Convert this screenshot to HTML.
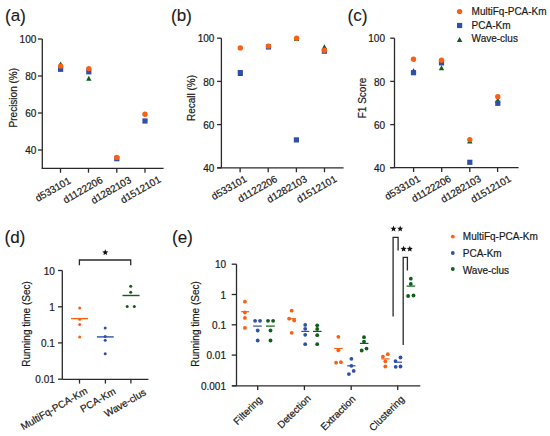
<!DOCTYPE html>
<html><head><meta charset="utf-8"><style>
html,body{margin:0;padding:0;background:#fff;}
svg{display:block;}
text{font-family:"Liberation Sans",sans-serif;stroke:#1a1a1a;stroke-width:0.2px;}
.pl{stroke-width:0.1px;}
</style></head><body>
<svg width="550" height="436" viewBox="0 0 550 436">
<rect width="550" height="436" fill="#fff"/>
<text x="5" y="21.6" font-size="17.5" text-anchor="start" fill="#1a1a1a" class="pl">(</text>
<text x="10.661000000000001" y="20.8" font-size="17" text-anchor="start" fill="#1a1a1a" class="pl">a</text>
<text x="20.113000000000003" y="21.6" font-size="17.5" text-anchor="start" fill="#1a1a1a" class="pl">)</text>
<text x="171" y="21.6" font-size="17.5" text-anchor="start" fill="#1a1a1a" class="pl">(</text>
<text x="176.661" y="20.8" font-size="17" text-anchor="start" fill="#1a1a1a" class="pl">b</text>
<text x="186.113" y="21.6" font-size="17.5" text-anchor="start" fill="#1a1a1a" class="pl">)</text>
<text x="347.5" y="21.6" font-size="17.5" text-anchor="start" fill="#1a1a1a" class="pl">(</text>
<text x="353.161" y="20.8" font-size="17" text-anchor="start" fill="#1a1a1a" class="pl">c</text>
<text x="361.661" y="21.6" font-size="17.5" text-anchor="start" fill="#1a1a1a" class="pl">)</text>
<text x="4.5" y="243.4" font-size="17.5" text-anchor="start" fill="#1a1a1a" class="pl">(</text>
<text x="10.161000000000001" y="242.8" font-size="17" text-anchor="start" fill="#1a1a1a" class="pl">d</text>
<text x="19.613000000000003" y="243.4" font-size="17.5" text-anchor="start" fill="#1a1a1a" class="pl">)</text>
<text x="172" y="243.4" font-size="17.5" text-anchor="start" fill="#1a1a1a" class="pl">(</text>
<text x="177.661" y="242.8" font-size="17" text-anchor="start" fill="#1a1a1a" class="pl">e</text>
<text x="187.113" y="243.4" font-size="17.5" text-anchor="start" fill="#1a1a1a" class="pl">)</text>
<line x1="42.3" y1="39" x2="42.3" y2="168.4" stroke="#2a2a2a" stroke-width="1.3"/>
<line x1="41.65" y1="168.4" x2="163.6" y2="168.4" stroke="#2a2a2a" stroke-width="1.3"/>
<line x1="38.0" y1="39" x2="42.3" y2="39" stroke="#2a2a2a" stroke-width="1.3"/>
<text x="36.3" y="43.1" font-size="10" text-anchor="end" fill="#1a1a1a">100</text>
<line x1="38.0" y1="76" x2="42.3" y2="76" stroke="#2a2a2a" stroke-width="1.3"/>
<text x="36.3" y="80.1" font-size="10" text-anchor="end" fill="#1a1a1a">80</text>
<line x1="38.0" y1="113" x2="42.3" y2="113" stroke="#2a2a2a" stroke-width="1.3"/>
<text x="36.3" y="117.1" font-size="10" text-anchor="end" fill="#1a1a1a">60</text>
<line x1="38.0" y1="150" x2="42.3" y2="150" stroke="#2a2a2a" stroke-width="1.3"/>
<text x="36.3" y="154.1" font-size="10" text-anchor="end" fill="#1a1a1a">40</text>
<line x1="60.5" y1="168.4" x2="60.5" y2="172.70000000000002" stroke="#2a2a2a" stroke-width="1.3"/>
<text x="71.5" y="182.6" font-size="10" text-anchor="end" fill="#1a1a1a" transform="rotate(-30 71.5 182.6)">d533101</text>
<line x1="88.5" y1="168.4" x2="88.5" y2="172.70000000000002" stroke="#2a2a2a" stroke-width="1.3"/>
<text x="103.5" y="181.9" font-size="10" text-anchor="end" fill="#1a1a1a" transform="rotate(-30 103.5 181.9)">d1122206</text>
<line x1="116.8" y1="168.4" x2="116.8" y2="172.70000000000002" stroke="#2a2a2a" stroke-width="1.3"/>
<text x="132.0" y="181.9" font-size="10" text-anchor="end" fill="#1a1a1a" transform="rotate(-30 132.0 181.9)">d1282103</text>
<line x1="145" y1="168.4" x2="145" y2="172.70000000000002" stroke="#2a2a2a" stroke-width="1.3"/>
<text x="161.5" y="181.4" font-size="10" text-anchor="end" fill="#1a1a1a" transform="rotate(-30 161.5 181.4)">d1512101</text>
<text x="17" y="97.7" font-size="10" text-anchor="middle" fill="#1a1a1a" transform="rotate(-90 17 97.7)">Precision (%)</text>
<polygon points="57.9,66.33 63.300000000000004,66.33 60.6,61.47" fill="#0E5E1C"/>
<rect x="58.0" y="66.7" width="5.2" height="5.2" fill="#2F4FAA"/>
<circle cx="60.6" cy="66.1" r="2.7" fill="#FA5F12"/>
<polygon points="86.1,80.63000000000001 91.5,80.63000000000001 88.8,75.77" fill="#0E5E1C"/>
<rect x="86.2" y="69.2" width="5.2" height="5.2" fill="#2F4FAA"/>
<circle cx="88.8" cy="68.6" r="2.7" fill="#FA5F12"/>
<rect x="114.2" y="156.1" width="5.2" height="5.2" fill="#2F4FAA"/>
<circle cx="116.8" cy="157.4" r="2.7" fill="#FA5F12"/>
<rect x="142.4" y="118.4" width="5.2" height="5.2" fill="#2F4FAA"/>
<circle cx="145" cy="114.2" r="2.7" fill="#FA5F12"/>
<line x1="221.4" y1="38.2" x2="221.4" y2="167.9" stroke="#2a2a2a" stroke-width="1.3"/>
<line x1="217.1" y1="167.9" x2="343.6" y2="167.9" stroke="#2a2a2a" stroke-width="1.3"/>
<line x1="217.1" y1="38.2" x2="221.4" y2="38.2" stroke="#2a2a2a" stroke-width="1.3"/>
<text x="214.4" y="42.300000000000004" font-size="10" text-anchor="end" fill="#1a1a1a">100</text>
<line x1="217.1" y1="81.4" x2="221.4" y2="81.4" stroke="#2a2a2a" stroke-width="1.3"/>
<text x="214.4" y="85.5" font-size="10" text-anchor="end" fill="#1a1a1a">80</text>
<line x1="217.1" y1="124.6" x2="221.4" y2="124.6" stroke="#2a2a2a" stroke-width="1.3"/>
<text x="214.4" y="128.7" font-size="10" text-anchor="end" fill="#1a1a1a">60</text>
<line x1="217.1" y1="167.9" x2="221.4" y2="167.9" stroke="#2a2a2a" stroke-width="1.3"/>
<text x="214.4" y="172.0" font-size="10" text-anchor="end" fill="#1a1a1a">40</text>
<line x1="240.1" y1="167.9" x2="240.1" y2="172.20000000000002" stroke="#2a2a2a" stroke-width="1.3"/>
<text x="247.6" y="180.9" font-size="10" text-anchor="end" fill="#1a1a1a" transform="rotate(-30 247.6 180.9)">d533101</text>
<line x1="268.2" y1="167.9" x2="268.2" y2="172.20000000000002" stroke="#2a2a2a" stroke-width="1.3"/>
<text x="278.2" y="180.9" font-size="10" text-anchor="end" fill="#1a1a1a" transform="rotate(-30 278.2 180.9)">d1122206</text>
<line x1="296.4" y1="167.9" x2="296.4" y2="172.20000000000002" stroke="#2a2a2a" stroke-width="1.3"/>
<text x="307.9" y="180.9" font-size="10" text-anchor="end" fill="#1a1a1a" transform="rotate(-30 307.9 180.9)">d1282103</text>
<line x1="324.5" y1="167.9" x2="324.5" y2="172.20000000000002" stroke="#2a2a2a" stroke-width="1.3"/>
<text x="337.5" y="180.9" font-size="10" text-anchor="end" fill="#1a1a1a" transform="rotate(-30 337.5 180.9)">d1512101</text>
<text x="195" y="98" font-size="10" text-anchor="middle" fill="#1a1a1a" transform="rotate(-90 195 98)">Recall (%)</text>
<polygon points="237.60000000000002,75.93 243.0,75.93 240.3,71.07" fill="#0E5E1C"/>
<rect x="237.70000000000002" y="70.0" width="5.2" height="5.2" fill="#2F4FAA"/>
<circle cx="240.3" cy="47.9" r="2.7" fill="#FA5F12"/>
<polygon points="265.8,49.23 271.2,49.23 268.5,44.37" fill="#0E5E1C"/>
<rect x="265.9" y="44.199999999999996" width="5.2" height="5.2" fill="#2F4FAA"/>
<circle cx="268.5" cy="46.1" r="2.7" fill="#FA5F12"/>
<polygon points="293.90000000000003,41.03 299.3,41.03 296.6,36.17" fill="#0E5E1C"/>
<circle cx="296.6" cy="38.2" r="2.7" fill="#FA5F12"/>
<polygon points="321.7,49.23 327.09999999999997,49.23 324.4,44.37" fill="#0E5E1C"/>
<rect x="321.79999999999995" y="48.6" width="5.2" height="5.2" fill="#2F4FAA"/>
<circle cx="324.4" cy="50.2" r="2.7" fill="#FA5F12"/>
<rect x="293.79999999999995" y="137.3" width="5.2" height="5.2" fill="#2F4FAA"/>
<line x1="394.5" y1="38.2" x2="394.5" y2="167.7" stroke="#2a2a2a" stroke-width="1.3"/>
<line x1="390.2" y1="167.7" x2="518.6" y2="167.7" stroke="#2a2a2a" stroke-width="1.3"/>
<line x1="390.2" y1="38.2" x2="394.5" y2="38.2" stroke="#2a2a2a" stroke-width="1.3"/>
<text x="385.0" y="42.300000000000004" font-size="10" text-anchor="end" fill="#1a1a1a">100</text>
<line x1="390.2" y1="81.4" x2="394.5" y2="81.4" stroke="#2a2a2a" stroke-width="1.3"/>
<text x="385.0" y="85.5" font-size="10" text-anchor="end" fill="#1a1a1a">80</text>
<line x1="390.2" y1="124.6" x2="394.5" y2="124.6" stroke="#2a2a2a" stroke-width="1.3"/>
<text x="385.0" y="128.7" font-size="10" text-anchor="end" fill="#1a1a1a">60</text>
<line x1="390.2" y1="167.7" x2="394.5" y2="167.7" stroke="#2a2a2a" stroke-width="1.3"/>
<text x="385.0" y="171.79999999999998" font-size="10" text-anchor="end" fill="#1a1a1a">40</text>
<line x1="413.6" y1="167.7" x2="413.6" y2="172.0" stroke="#2a2a2a" stroke-width="1.3"/>
<text x="421.0" y="180.7" font-size="10" text-anchor="end" fill="#1a1a1a" transform="rotate(-30 421.0 180.7)">d533101</text>
<line x1="441.7" y1="167.7" x2="441.7" y2="172.0" stroke="#2a2a2a" stroke-width="1.3"/>
<text x="451.8" y="180.7" font-size="10" text-anchor="end" fill="#1a1a1a" transform="rotate(-30 451.8 180.7)">d1122206</text>
<line x1="469.8" y1="167.7" x2="469.8" y2="172.0" stroke="#2a2a2a" stroke-width="1.3"/>
<text x="481.90000000000003" y="180.7" font-size="10" text-anchor="end" fill="#1a1a1a" transform="rotate(-30 481.90000000000003 180.7)">d1282103</text>
<line x1="497.6" y1="167.7" x2="497.6" y2="172.0" stroke="#2a2a2a" stroke-width="1.3"/>
<text x="511.8" y="180.7" font-size="10" text-anchor="end" fill="#1a1a1a" transform="rotate(-30 511.8 180.7)">d1512101</text>
<text x="366" y="98" font-size="10" text-anchor="middle" fill="#1a1a1a" transform="rotate(-90 366 98)">F1 Score</text>
<polygon points="410.8,73.03 416.2,73.03 413.5,68.16999999999999" fill="#0E5E1C"/>
<rect x="410.9" y="70.10000000000001" width="5.2" height="5.2" fill="#2F4FAA"/>
<circle cx="413.5" cy="59.2" r="2.7" fill="#FA5F12"/>
<polygon points="438.8,70.13000000000001 444.2,70.13000000000001 441.5,65.27" fill="#0E5E1C"/>
<rect x="438.9" y="60.3" width="5.2" height="5.2" fill="#2F4FAA"/>
<circle cx="441.5" cy="60.3" r="2.7" fill="#FA5F12"/>
<polygon points="467.1,143.43 472.5,143.43 469.8,138.57" fill="#0E5E1C"/>
<rect x="467.2" y="159.70000000000002" width="5.2" height="5.2" fill="#2F4FAA"/>
<circle cx="469.8" cy="139.6" r="2.7" fill="#FA5F12"/>
<polygon points="495.1,102.43 500.5,102.43 497.8,97.57" fill="#0E5E1C"/>
<rect x="495.2" y="100.7" width="5.2" height="5.2" fill="#2F4FAA"/>
<circle cx="497.8" cy="96.7" r="2.7" fill="#FA5F12"/>
<circle cx="459.6" cy="11.6" r="2.7" fill="#FA5F12"/>
<rect x="457.0" y="22.9" width="5.2" height="5.2" fill="#2F4FAA"/>
<polygon points="456.85,41.875 462.35,41.875 459.6,36.925" fill="#0E5E1C"/>
<text x="471.6" y="14.8" font-size="10" text-anchor="start" fill="#1a1a1a">MultiFq-PCA-Km</text>
<text x="471.6" y="28.6" font-size="10" text-anchor="start" fill="#1a1a1a">PCA-Km</text>
<text x="471.6" y="42.4" font-size="10" text-anchor="start" fill="#1a1a1a">Wave-clus</text>
<line x1="62.3" y1="270.5" x2="62.3" y2="379.3" stroke="#2a2a2a" stroke-width="1.3"/>
<line x1="62.3" y1="379.3" x2="148.4" y2="379.3" stroke="#2a2a2a" stroke-width="1.3"/>
<line x1="58.0" y1="270.5" x2="62.3" y2="270.5" stroke="#2a2a2a" stroke-width="1.3"/>
<text x="54.8" y="274.5" font-size="10" text-anchor="end" fill="#1a1a1a">10</text>
<line x1="58.0" y1="306.8" x2="62.3" y2="306.8" stroke="#2a2a2a" stroke-width="1.3"/>
<text x="54.8" y="310.8" font-size="10" text-anchor="end" fill="#1a1a1a">1</text>
<line x1="58.0" y1="342.9" x2="62.3" y2="342.9" stroke="#2a2a2a" stroke-width="1.3"/>
<text x="54.8" y="346.9" font-size="10" text-anchor="end" fill="#1a1a1a">0.1</text>
<line x1="58.0" y1="379.2" x2="62.3" y2="379.2" stroke="#2a2a2a" stroke-width="1.3"/>
<text x="54.8" y="383.2" font-size="10" text-anchor="end" fill="#1a1a1a">0.01</text>
<line x1="79.5" y1="379.3" x2="79.5" y2="383.6" stroke="#2a2a2a" stroke-width="1.3"/>
<text x="88.2" y="392.8" font-size="10" text-anchor="end" fill="#1a1a1a" transform="rotate(-30 88.2 392.8)">MultiFq-PCA-Km</text>
<line x1="105.4" y1="379.3" x2="105.4" y2="383.6" stroke="#2a2a2a" stroke-width="1.3"/>
<text x="116.4" y="393.3" font-size="10" text-anchor="end" fill="#1a1a1a" transform="rotate(-30 116.4 393.3)">PCA-Km</text>
<line x1="130.9" y1="379.3" x2="130.9" y2="383.6" stroke="#2a2a2a" stroke-width="1.3"/>
<text x="146.9" y="394.3" font-size="10" text-anchor="end" fill="#1a1a1a" transform="rotate(-30 146.9 394.3)">Wave-clus</text>
<text x="30" y="324" font-size="10" text-anchor="middle" fill="#1a1a1a" transform="rotate(-90 30 324)">Running time (Sec)</text>
<polyline points="79.4,265.2 79.4,260 130.7,260 130.7,265.2" fill="none" stroke="#2a2a2a" stroke-width="1.3"/>
<polygon points="105.30,249.30 106.12,251.37 108.34,251.51 106.63,252.93 107.18,255.09 105.30,253.90 103.42,255.09 103.97,252.93 102.26,251.51 104.48,251.37" fill="#111"/>
<circle cx="79.7" cy="307.9" r="1.5" fill="#FA5F12"/>
<circle cx="79.7" cy="319.3" r="1.5" fill="#FA5F12"/>
<circle cx="79.7" cy="324.5" r="1.5" fill="#FA5F12"/>
<circle cx="79.7" cy="336.9" r="1.5" fill="#FA5F12"/>
<line x1="71" y1="318.6" x2="88" y2="318.6" stroke="#FA5F12" stroke-width="1.4"/>
<circle cx="105.2" cy="328" r="1.5" fill="#2F4FAA"/>
<circle cx="105.2" cy="336.5" r="1.5" fill="#2F4FAA"/>
<circle cx="105.2" cy="340.2" r="1.5" fill="#2F4FAA"/>
<circle cx="105.2" cy="353.7" r="1.5" fill="#2F4FAA"/>
<line x1="96.9" y1="336.9" x2="113.7" y2="336.9" stroke="#2F4FAA" stroke-width="1.4"/>
<circle cx="130.7" cy="286.3" r="1.5" fill="#0E5E1C"/>
<circle cx="130.7" cy="292.3" r="1.5" fill="#0E5E1C"/>
<circle cx="127.2" cy="306.6" r="1.5" fill="#0E5E1C"/>
<circle cx="134.3" cy="306.6" r="1.5" fill="#0E5E1C"/>
<line x1="122.5" y1="295.5" x2="139.5" y2="295.5" stroke="#0E5E1C" stroke-width="1.4"/>
<line x1="236.5" y1="264.2" x2="236.5" y2="385.8" stroke="#2a2a2a" stroke-width="1.3"/>
<line x1="232.2" y1="385.8" x2="420.3" y2="385.8" stroke="#2a2a2a" stroke-width="1.3"/>
<line x1="231.7" y1="264.2" x2="236.5" y2="264.2" stroke="#2a2a2a" stroke-width="1.3"/>
<text x="226.0" y="268.2" font-size="10" text-anchor="end" fill="#1a1a1a">10</text>
<line x1="231.7" y1="294.5" x2="236.5" y2="294.5" stroke="#2a2a2a" stroke-width="1.3"/>
<text x="226.0" y="298.5" font-size="10" text-anchor="end" fill="#1a1a1a">1</text>
<line x1="231.7" y1="324.8" x2="236.5" y2="324.8" stroke="#2a2a2a" stroke-width="1.3"/>
<text x="226.0" y="328.8" font-size="10" text-anchor="end" fill="#1a1a1a">0.1</text>
<line x1="231.7" y1="355.1" x2="236.5" y2="355.1" stroke="#2a2a2a" stroke-width="1.3"/>
<text x="226.0" y="359.1" font-size="10" text-anchor="end" fill="#1a1a1a">0.01</text>
<line x1="231.7" y1="385.8" x2="236.5" y2="385.8" stroke="#2a2a2a" stroke-width="1.3"/>
<text x="226.0" y="389.8" font-size="10" text-anchor="end" fill="#1a1a1a">0.001</text>
<line x1="257.7" y1="385.8" x2="257.7" y2="390.1" stroke="#2a2a2a" stroke-width="1.3"/>
<text x="262.7" y="400.3" font-size="10" text-anchor="end" fill="#1a1a1a" transform="rotate(-45 262.7 400.3)">Filtering</text>
<line x1="304.4" y1="385.8" x2="304.4" y2="390.1" stroke="#2a2a2a" stroke-width="1.3"/>
<text x="311.4" y="399.1" font-size="10" text-anchor="end" fill="#1a1a1a" transform="rotate(-45 311.4 399.1)">Detection</text>
<line x1="351.2" y1="385.8" x2="351.2" y2="390.1" stroke="#2a2a2a" stroke-width="1.3"/>
<text x="356.2" y="399.5" font-size="10" text-anchor="end" fill="#1a1a1a" transform="rotate(-45 356.2 399.5)">Extraction</text>
<line x1="397.7" y1="385.8" x2="397.7" y2="390.1" stroke="#2a2a2a" stroke-width="1.3"/>
<text x="405.0" y="399.8" font-size="10" text-anchor="end" fill="#1a1a1a" transform="rotate(-45 405.0 399.8)">Clustering</text>
<text x="198.5" y="324" font-size="10" text-anchor="middle" fill="#1a1a1a" transform="rotate(-90 198.5 324)">Running time (Sec)</text>
<circle cx="244.9" cy="301.7" r="1.9" fill="#FA5F12"/>
<circle cx="244.9" cy="312.5" r="1.9" fill="#FA5F12"/>
<circle cx="244.9" cy="317.9" r="1.9" fill="#FA5F12"/>
<circle cx="244.9" cy="327.9" r="1.9" fill="#FA5F12"/>
<circle cx="291.7" cy="310.7" r="1.9" fill="#FA5F12"/>
<circle cx="289.2" cy="318.7" r="1.9" fill="#FA5F12"/>
<circle cx="294.2" cy="320.5" r="1.9" fill="#FA5F12"/>
<circle cx="291.7" cy="332.8" r="1.9" fill="#FA5F12"/>
<circle cx="338.3" cy="336.8" r="1.9" fill="#FA5F12"/>
<circle cx="338.3" cy="350.3" r="1.9" fill="#FA5F12"/>
<circle cx="336.1" cy="362.7" r="1.9" fill="#FA5F12"/>
<circle cx="340.9" cy="362.2" r="1.9" fill="#FA5F12"/>
<circle cx="387.8" cy="354.2" r="1.9" fill="#FA5F12"/>
<circle cx="382.9" cy="356.7" r="1.9" fill="#FA5F12"/>
<circle cx="385.3" cy="361.3" r="1.9" fill="#FA5F12"/>
<circle cx="385.3" cy="366.5" r="1.9" fill="#FA5F12"/>
<line x1="241.1" y1="311.7" x2="249.1" y2="311.7" stroke="#FA5F12" stroke-width="1.2"/>
<line x1="287.5" y1="318.7" x2="296" y2="318.7" stroke="#FA5F12" stroke-width="1.2"/>
<line x1="334.2" y1="348.5" x2="342.7" y2="348.5" stroke="#FA5F12" stroke-width="1.2"/>
<line x1="381.3" y1="358.9" x2="389.6" y2="358.9" stroke="#FA5F12" stroke-width="1.2"/>
<circle cx="255.1" cy="320.8" r="1.9" fill="#2F4FAA"/>
<circle cx="260" cy="320.8" r="1.9" fill="#2F4FAA"/>
<circle cx="257.7" cy="330.5" r="1.9" fill="#2F4FAA"/>
<circle cx="257.7" cy="340.5" r="1.9" fill="#2F4FAA"/>
<circle cx="305.2" cy="324.9" r="1.9" fill="#2F4FAA"/>
<circle cx="305.2" cy="328.8" r="1.9" fill="#2F4FAA"/>
<circle cx="305.2" cy="334.8" r="1.9" fill="#2F4FAA"/>
<circle cx="305.2" cy="344.2" r="1.9" fill="#2F4FAA"/>
<circle cx="351.4" cy="358.8" r="1.9" fill="#2F4FAA"/>
<circle cx="351.4" cy="365.8" r="1.9" fill="#2F4FAA"/>
<circle cx="353.7" cy="370.9" r="1.9" fill="#2F4FAA"/>
<circle cx="348.9" cy="374.1" r="1.9" fill="#2F4FAA"/>
<circle cx="400.5" cy="357.5" r="1.9" fill="#2F4FAA"/>
<circle cx="395.5" cy="361.1" r="1.9" fill="#2F4FAA"/>
<circle cx="395.7" cy="366.8" r="1.9" fill="#2F4FAA"/>
<circle cx="400.5" cy="366.5" r="1.9" fill="#2F4FAA"/>
<line x1="253.1" y1="326.1" x2="261.8" y2="326.1" stroke="#2F4FAA" stroke-width="1.2"/>
<line x1="301.3" y1="331.4" x2="309.2" y2="331.4" stroke="#2F4FAA" stroke-width="1.2"/>
<line x1="347.2" y1="365.8" x2="355.5" y2="365.8" stroke="#2F4FAA" stroke-width="1.2"/>
<line x1="394.4" y1="362.2" x2="402" y2="362.2" stroke="#2F4FAA" stroke-width="1.2"/>
<circle cx="268" cy="320.8" r="1.9" fill="#0E5E1C"/>
<circle cx="273.1" cy="320.8" r="1.9" fill="#0E5E1C"/>
<circle cx="270.5" cy="330.5" r="1.9" fill="#0E5E1C"/>
<circle cx="270.5" cy="340.5" r="1.9" fill="#0E5E1C"/>
<circle cx="317.2" cy="325.3" r="1.9" fill="#0E5E1C"/>
<circle cx="317.2" cy="329" r="1.9" fill="#0E5E1C"/>
<circle cx="317.2" cy="335.2" r="1.9" fill="#0E5E1C"/>
<circle cx="317.2" cy="344.2" r="1.9" fill="#0E5E1C"/>
<circle cx="364" cy="337.2" r="1.9" fill="#0E5E1C"/>
<circle cx="364" cy="341.6" r="1.9" fill="#0E5E1C"/>
<circle cx="361.7" cy="350.5" r="1.9" fill="#0E5E1C"/>
<circle cx="366.5" cy="348.6" r="1.9" fill="#0E5E1C"/>
<circle cx="410.8" cy="278.7" r="1.9" fill="#0E5E1C"/>
<circle cx="410.8" cy="283.9" r="1.9" fill="#0E5E1C"/>
<circle cx="408.1" cy="296" r="1.9" fill="#0E5E1C"/>
<circle cx="413.5" cy="295.5" r="1.9" fill="#0E5E1C"/>
<line x1="266" y1="326.1" x2="274.8" y2="326.1" stroke="#0E5E1C" stroke-width="1.2"/>
<line x1="313" y1="331.4" x2="321.6" y2="331.4" stroke="#0E5E1C" stroke-width="1.2"/>
<line x1="359.9" y1="343.4" x2="368.4" y2="343.4" stroke="#0E5E1C" stroke-width="1.2"/>
<line x1="406.6" y1="286.1" x2="415.2" y2="286.1" stroke="#0E5E1C" stroke-width="1.2"/>
<polyline points="393.1,316.5 393.1,237.4 398.1,237.4 398.1,250.5" fill="none" stroke="#2a2a2a" stroke-width="1.3"/>
<polyline points="403.2,345 403.2,257.3 407.4,257.3 407.4,270.5" fill="none" stroke="#2a2a2a" stroke-width="1.3"/>
<polygon points="393.50,225.60 394.32,227.67 396.54,227.81 394.83,229.23 395.38,231.39 393.50,230.20 391.62,231.39 392.17,229.23 390.46,227.81 392.68,227.67" fill="#111"/>
<polygon points="400.20,225.60 401.02,227.67 403.24,227.81 401.53,229.23 402.08,231.39 400.20,230.20 398.32,231.39 398.87,229.23 397.16,227.81 399.38,227.67" fill="#111"/>
<polygon points="403.60,245.80 404.42,247.87 406.64,248.01 404.93,249.43 405.48,251.59 403.60,250.40 401.72,251.59 402.27,249.43 400.56,248.01 402.78,247.87" fill="#111"/>
<polygon points="409.80,245.80 410.62,247.87 412.84,248.01 411.13,249.43 411.68,251.59 409.80,250.40 407.92,251.59 408.47,249.43 406.76,248.01 408.98,247.87" fill="#111"/>
<circle cx="452.8" cy="236.6" r="1.9" fill="#FA5F12"/>
<circle cx="452.8" cy="253" r="1.9" fill="#2F4FAA"/>
<circle cx="452.8" cy="269" r="1.9" fill="#0E5E1C"/>
<text x="462.8" y="240.2" font-size="10" text-anchor="start" fill="#1a1a1a">MultiFq-PCA-Km</text>
<text x="462.8" y="257.2" font-size="10" text-anchor="start" fill="#1a1a1a">PCA-Km</text>
<text x="462.8" y="274.4" font-size="10" text-anchor="start" fill="#1a1a1a">Wave-clus</text>
</svg>
</body></html>
